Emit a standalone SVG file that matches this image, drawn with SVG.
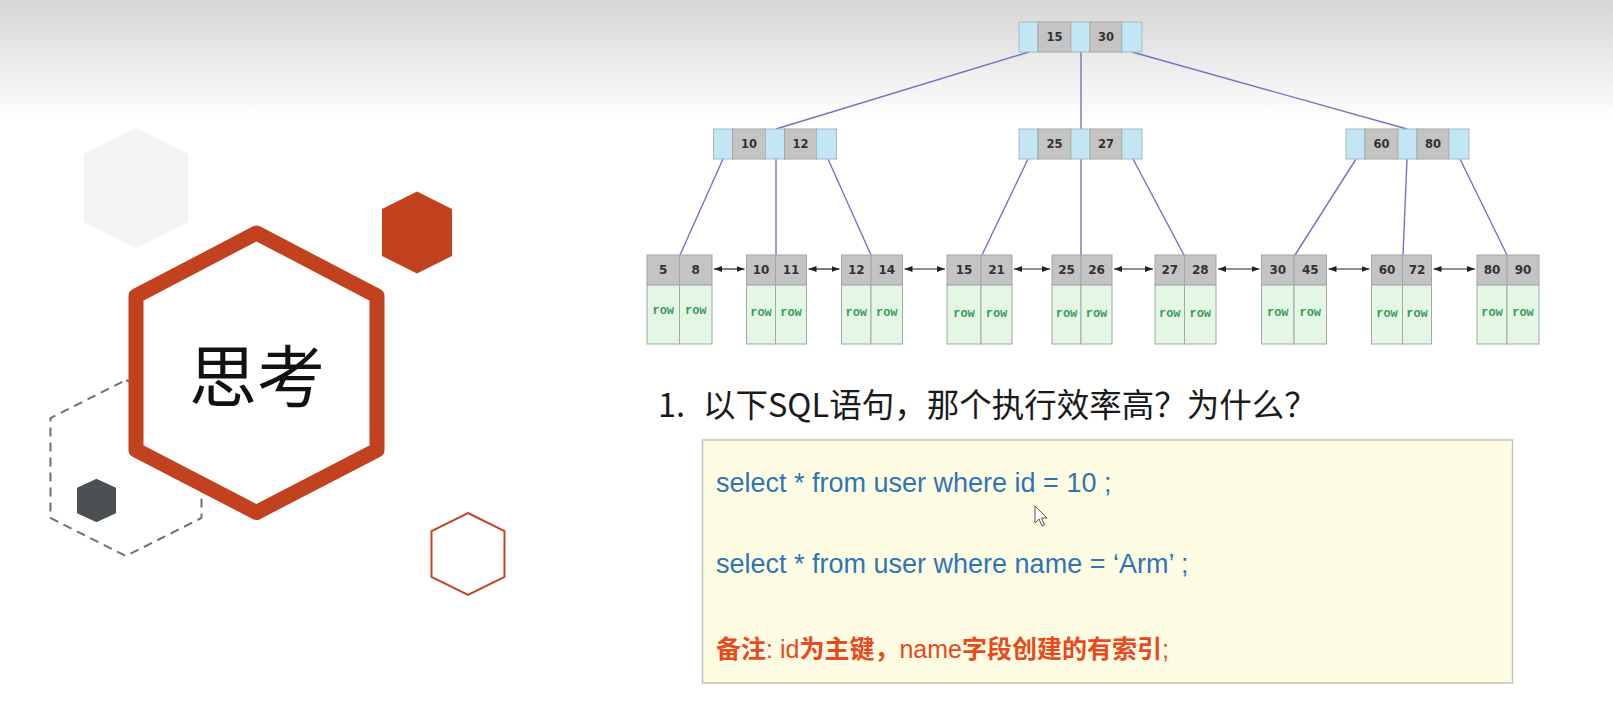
<svg xmlns="http://www.w3.org/2000/svg" width="1613" height="719" viewBox="0 0 1613 719">
<defs>
<linearGradient id="topfade" x1="0" y1="0" x2="0" y2="1">
<stop offset="0" stop-color="#d6d6d6"/>
<stop offset="1" stop-color="#ffffff"/>
</linearGradient>
<marker id="ah" viewBox="0 0 8 6" refX="8" refY="3" markerWidth="8" markerHeight="6" markerUnits="userSpaceOnUse" orient="auto-start-reverse">
<path d="M0,0 L8,3 L0,6 z" fill="#222"/>
</marker>
<style>
.p{fill:#c3e6f4;stroke:#a9b9c0;stroke-width:1}
.k{fill:#c4c4c4;stroke:#a6a6a6;stroke-width:1}
.d{fill:#e4f6e4;stroke:#a6a6a6;stroke-width:1}
.n{font-family:"DejaVu Sans",sans-serif;font-weight:bold;font-size:11.5px;fill:#333;text-anchor:middle}
.ln{font-size:12px}
.r{font-family:"Liberation Mono","DejaVu Sans Mono",monospace;font-weight:bold;font-size:12px;fill:#3a9a5c;text-anchor:middle}
.e{stroke:#7474c2;stroke-width:1.4;fill:none}
.a{stroke:#222;stroke-width:1.2;marker-start:url(#ah);marker-end:url(#ah)}
.sql{font-family:"Liberation Sans",Arial,sans-serif;font-size:27px;fill:#2f75b5}
.cj{font-weight:bold}
</style>
</defs>

<rect x="0" y="0" width="1613" height="719" fill="#ffffff"/>
<rect x="0" y="0" width="1613" height="122" fill="url(#topfade)"/>

<!-- decorative hexagons -->
<g id="decor">
<polygon points="136,128 188,154 188,222 136,248 84,222 84,154" fill="#f3f3f3"/>
<polygon points="126,380 201.5,418 201.5,518 126,556 50.5,518 50.5,418" fill="none" stroke="#707070" stroke-width="2" stroke-dasharray="9 6"/>
<polygon points="96.5,480 115,488.5 115,512.5 96.5,521 78,512.5 78,488.5" fill="#4b5052" stroke="#4b5052" stroke-width="2" stroke-linejoin="round"/>
<polygon points="417,191.5 452,209 452,256 417,273.5 382,256 382,209" fill="#c2411f"/>
<polygon points="468,513 504.5,531 504.5,577 468,595 431.5,577 431.5,531" fill="#ffffff" stroke="#c2441f" stroke-width="2"/>
</g>

<g id="think">
<polygon points="256.5,233 377,296 377,450 256.5,512.5 136,450 136,296" fill="#ffffff" stroke="#c2411f" stroke-width="15" stroke-linejoin="round"/>
<text x="257" y="402" font-family="'Noto Sans CJK SC',sans-serif" font-size="68" fill="#111" text-anchor="middle">思考</text>
</g>

<!-- connectors -->
<g id="connectors">
<line class="e" x1="1029" y1="52" x2="776" y2="129"/>
<line class="e" x1="1081" y1="52" x2="1081" y2="129"/>
<line class="e" x1="1132" y1="52" x2="1407" y2="129"/>
<line class="e" x1="723" y1="159" x2="680" y2="255"/>
<line class="e" x1="776" y1="159" x2="776" y2="255"/>
<line class="e" x1="828" y1="159" x2="871" y2="255"/>
<line class="e" x1="1028" y1="159" x2="982" y2="255"/>
<line class="e" x1="1081" y1="159" x2="1081" y2="255"/>
<line class="e" x1="1133" y1="159" x2="1184" y2="255"/>
<line class="e" x1="1356" y1="159" x2="1295" y2="255"/>
<line class="e" x1="1407" y1="159" x2="1403" y2="255"/>
<line class="e" x1="1460" y1="159" x2="1507" y2="255"/>
<line class="a" x1="714" y1="269" x2="744.5" y2="269"/>
<line class="a" x1="808.5" y1="269" x2="839.5" y2="269"/>
<line class="a" x1="904.5" y1="269" x2="945" y2="269"/>
<line class="a" x1="1014" y1="269" x2="1050" y2="269"/>
<line class="a" x1="1114" y1="269" x2="1153" y2="269"/>
<line class="a" x1="1218" y1="269" x2="1259.5" y2="269"/>
<line class="a" x1="1328.5" y1="269" x2="1369.5" y2="269"/>
<line class="a" x1="1433.5" y1="269" x2="1475" y2="269"/>
</g>

<!-- internal nodes -->
<g id="node-root" transform="translate(1019,22)">
<rect class="p" x="0" y="0" width="19" height="30"/><rect class="k" x="19" y="0" width="33" height="30"/><rect class="p" x="52" y="0" width="19" height="30"/><rect class="k" x="71" y="0" width="32" height="30"/><rect class="p" x="103" y="0" width="20" height="30"/>
<text class="n" x="35.5" y="19">15</text><text class="n" x="87" y="19">30</text>
</g>
<g id="node-10-12" transform="translate(713.5,129)">
<rect class="p" x="0" y="0" width="19" height="30"/><rect class="k" x="19" y="0" width="33" height="30"/><rect class="p" x="52" y="0" width="19" height="30"/><rect class="k" x="71" y="0" width="32" height="30"/><rect class="p" x="103" y="0" width="20" height="30"/>
<text class="n" x="35.5" y="19">10</text><text class="n" x="87" y="19">12</text>
</g>
<g id="node-25-27" transform="translate(1019,129)">
<rect class="p" x="0" y="0" width="19" height="30"/><rect class="k" x="19" y="0" width="33" height="30"/><rect class="p" x="52" y="0" width="19" height="30"/><rect class="k" x="71" y="0" width="32" height="30"/><rect class="p" x="103" y="0" width="20" height="30"/>
<text class="n" x="35.5" y="19">25</text><text class="n" x="87" y="19">27</text>
</g>
<g id="node-60-80" transform="translate(1346,129)">
<rect class="p" x="0" y="0" width="19" height="30"/><rect class="k" x="19" y="0" width="33" height="30"/><rect class="p" x="52" y="0" width="19" height="30"/><rect class="k" x="71" y="0" width="32" height="30"/><rect class="p" x="103" y="0" width="20" height="30"/>
<text class="n" x="35.5" y="19">60</text><text class="n" x="87" y="19">80</text>
</g>

<!-- leaf nodes -->
<g id="leaf-5-8">
<rect class="k" x="647" y="255" width="32.5" height="30"/><rect class="k" x="679.5" y="255" width="32.5" height="30"/>
<rect class="d" x="647" y="285" width="32.5" height="59"/><rect class="d" x="679.5" y="285" width="32.5" height="59"/>
<text class="n ln" x="663.25" y="274">5</text><text class="n ln" x="695.75" y="274">8</text>
<text class="r" x="663.25" y="314">row</text><text class="r" x="695.75" y="314">row</text>
</g>
<g id="leaf-10-11">
<rect class="k" x="746.5" y="255" width="29" height="30"/><rect class="k" x="775.5" y="255" width="31" height="30"/>
<rect class="d" x="746.5" y="285" width="29" height="59"/><rect class="d" x="775.5" y="285" width="31" height="59"/>
<text class="n ln" x="761" y="274">10</text><text class="n ln" x="791" y="274">11</text>
<text class="r" x="761" y="316">row</text><text class="r" x="791" y="316">row</text>
</g>
<g id="leaf-12-14">
<rect class="k" x="841.5" y="255" width="29.5" height="30"/><rect class="k" x="871" y="255" width="31.5" height="30"/>
<rect class="d" x="841.5" y="285" width="29.5" height="59"/><rect class="d" x="871" y="285" width="31.5" height="59"/>
<text class="n ln" x="856.25" y="274">12</text><text class="n ln" x="886.75" y="274">14</text>
<text class="r" x="856.25" y="316">row</text><text class="r" x="886.75" y="316">row</text>
</g>
<g id="leaf-15-21">
<rect class="k" x="947" y="255" width="34" height="30"/><rect class="k" x="981" y="255" width="31" height="30"/>
<rect class="d" x="947" y="285" width="34" height="59"/><rect class="d" x="981" y="285" width="31" height="59"/>
<text class="n ln" x="964" y="274">15</text><text class="n ln" x="996.5" y="274">21</text>
<text class="r" x="964" y="317">row</text><text class="r" x="996.5" y="317">row</text>
</g>
<g id="leaf-25-26">
<rect class="k" x="1052" y="255" width="29" height="30"/><rect class="k" x="1081" y="255" width="31" height="30"/>
<rect class="d" x="1052" y="285" width="29" height="59"/><rect class="d" x="1081" y="285" width="31" height="59"/>
<text class="n ln" x="1066.5" y="274">25</text><text class="n ln" x="1096.5" y="274">26</text>
<text class="r" x="1066.5" y="317">row</text><text class="r" x="1096.5" y="317">row</text>
</g>
<g id="leaf-27-28">
<rect class="k" x="1155" y="255" width="29.5" height="30"/><rect class="k" x="1184.5" y="255" width="31.5" height="30"/>
<rect class="d" x="1155" y="285" width="29.5" height="59"/><rect class="d" x="1184.5" y="285" width="31.5" height="59"/>
<text class="n ln" x="1169.75" y="274">27</text><text class="n ln" x="1200.25" y="274">28</text>
<text class="r" x="1169.75" y="317">row</text><text class="r" x="1200.25" y="317">row</text>
</g>
<g id="leaf-30-45">
<rect class="k" x="1261.5" y="255" width="32.5" height="30"/><rect class="k" x="1294" y="255" width="32.5" height="30"/>
<rect class="d" x="1261.5" y="285" width="32.5" height="59"/><rect class="d" x="1294" y="285" width="32.5" height="59"/>
<text class="n ln" x="1277.75" y="274">30</text><text class="n ln" x="1310.25" y="274">45</text>
<text class="r" x="1277.75" y="316">row</text><text class="r" x="1310.25" y="316">row</text>
</g>
<g id="leaf-60-72">
<rect class="k" x="1371.5" y="255" width="31" height="30"/><rect class="k" x="1402.5" y="255" width="29" height="30"/>
<rect class="d" x="1371.5" y="285" width="31" height="59"/><rect class="d" x="1402.5" y="285" width="29" height="59"/>
<text class="n ln" x="1387" y="274">60</text><text class="n ln" x="1417" y="274">72</text>
<text class="r" x="1387" y="317">row</text><text class="r" x="1417" y="317">row</text>
</g>
<g id="leaf-80-90">
<rect class="k" x="1477" y="255" width="30" height="30"/><rect class="k" x="1507" y="255" width="32" height="30"/>
<rect class="d" x="1477" y="285" width="30" height="59"/><rect class="d" x="1507" y="285" width="32" height="59"/>
<text class="n ln" x="1492" y="274">80</text><text class="n ln" x="1523" y="274">90</text>
<text class="r" x="1492" y="316">row</text><text class="r" x="1523" y="316">row</text>
</g>

<!-- question -->
<g id="question">
<text y="417" font-family="'Noto Sans CJK SC',sans-serif" font-size="32.5" fill="#1a1a1a"><tspan x="658">1.</tspan><tspan x="703">以下SQL语句，那个执行效率高？为什么？</tspan></text>
</g>

<g id="code-box">
<rect x="702.5" y="440" width="810" height="243" fill="#fefde4" stroke="#c2c2b8" stroke-width="1.5"/>
<text class="sql" x="716" y="492">select * from user where id = 10 ;</text>
<text class="sql" x="716" y="573">select * from user where name = ‘Arm’ ;</text>
<text x="716" y="658" font-family="'Liberation Sans','Noto Sans CJK SC',sans-serif" font-size="25" fill="#e8491d"><tspan class="cj">备注</tspan>: id<tspan class="cj">为主键，</tspan>name<tspan class="cj">字段创建的有索引</tspan>;</text>
<path d="M1035,506 L1035,523 L1039,519 L1042,526 L1044.5,525 L1041.5,518 L1047,518 Z" fill="#ffffff" stroke="#555" stroke-width="1" stroke-linejoin="round"/>
</g>
</svg>
